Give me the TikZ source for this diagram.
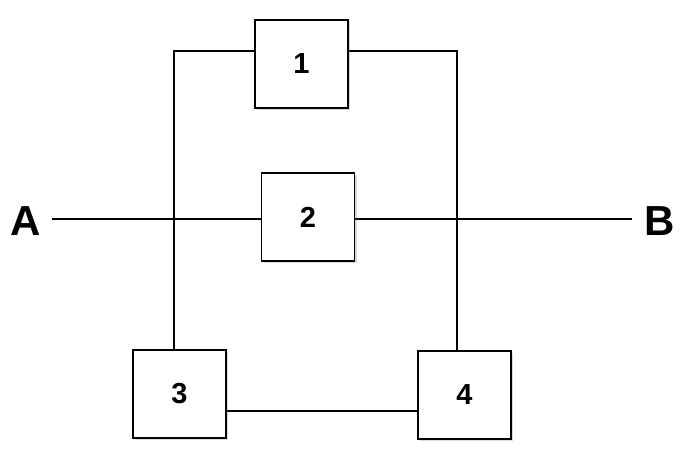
\documentclass[tikz,border=0pt]{standalone}
\usepackage{fontspec}
\setmainfont{Liberation Sans}
\usetikzlibrary{shadows}
\begin{document}
\begin{tikzpicture}[x=1pt,y=-1pt,
  box/.style={draw,line width=1.1pt,fill=white,minimum width=93pt,minimum height=88pt,inner sep=0pt,font=\bfseries\fontsize{29}{29}\selectfont,drop shadow={shadow xshift=2pt,shadow yshift=-2pt,opacity=0.3}},
  wire/.style={line width=2.8pt},
  lbl/.style={font=\bfseries\fontsize{42}{42}\selectfont,inner sep=0pt}]
\useasboundingbox (0,0) rectangle (700,466);
\coordinate (tl) at (174,51);
\coordinate (tr) at (457,51);
\node[lbl] (A) at (26,221) {A};
\node[lbl] (B) at (660,221) {B};
\coordinate (a) at (52,219);
\coordinate (b) at (632,219);
\draw[wire] (a) -- (b);
\draw[wire] (174,395) -- (tl) -- (tr) -- (457,395);
\draw[wire] (179,411) -- (465,411);
\node[box] (n1) at (301.5,64) {1};
\node[box] (n2) at (308,217) {2};
\node[box] (n3) at (179.5,394) {3};
\node[box] (n4) at (464.5,395) {4};
\end{tikzpicture}
\end{document}
